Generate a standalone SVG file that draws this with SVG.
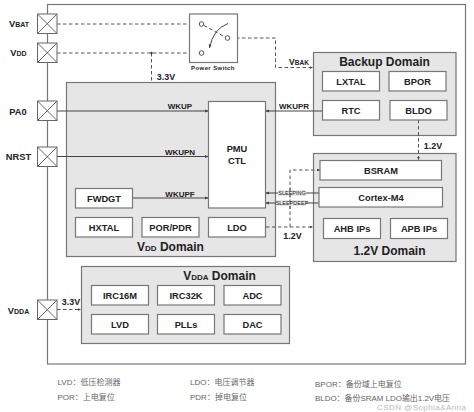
<svg xmlns="http://www.w3.org/2000/svg" width="474" height="412" viewBox="0 0 474 412">
<defs>
<marker id="a" markerWidth="4" markerHeight="4" refX="3.500" refY="2" orient="auto" markerUnits="userSpaceOnUse"><path d="M0 .5L3.500 2L0 3.500z" fill="#444"/></marker>
<g id="pad"><rect width="19.500" height="19.500" fill="#fff" stroke="#666"/><path d="M0 0L19.500 19.500M19.500 0L0 19.500" stroke="#666" fill="none"/></g>
</defs>
<style>
text{font-family:"Liberation Sans",Arial,sans-serif;fill:#222;font-weight:700;text-anchor:middle}
.d{fill:#e6e6e6;stroke:#777;stroke-width:1.200}
.b{fill:#fff;stroke:#777;stroke-width:1.200}
.c{font-size:9.300px}
.t{font-size:12px}
.l{font-size:8px}
.v{font-size:8.900px}
.p{font-size:9.300px}
.z{font-size:5.500px;font-weight:400}
.s{stroke:#444;fill:none;stroke-width:1}
.da{stroke:#555;fill:none;stroke-width:1;stroke-dasharray:3.500 2.500}
.n{font-size:8px;font-weight:400;fill:#666;text-anchor:start;font-family:"Liberation Sans","Noto Sans CJK SC",sans-serif}
</style>
<rect id="chip" x="47.500" y="4.500" width="418" height="359.500" fill="#fff" stroke="#777" stroke-width="1.200"/>
<g id="vdd-domain"><rect class="d" x="66.500" y="82.500" width="209" height="174"/><text class="t" x="170.500" y="251">V<tspan font-size="8">DD</tspan> Domain</text></g>
<g id="backup-domain"><rect class="d" x="313.500" y="52.500" width="142.500" height="83"/><text class="t" x="384.500" y="66">Backup Domain</text></g>
<g id="v12-domain"><rect class="d" x="313.500" y="153.500" width="142.500" height="108"/><text class="t" x="389.500" y="254.500">1.2V Domain</text></g>
<g id="vdda-domain"><rect class="d" x="81.500" y="266.500" width="208" height="77"/><text class="t" x="219.500" y="280">V<tspan font-size="8">DDA</tspan> Domain</text></g>
<g id="connectors">
<path class="da" d="M57 24H199M57 53H199M151.500 53V82"/>
<circle cx="151.500" cy="53" r="1.200" fill="#333"/>
<path class="da" d="M230 38H275.500V67.500H313" marker-end="url(#a)"/>
<path class="da" d="M418.500 120V160" marker-end="url(#a)"/>
<path class="da" d="M266 227H313" marker-end="url(#a)"/>
<path class="da" d="M290 227V170H320" marker-end="url(#a)"/>
<path class="da" d="M57 309.500H81" marker-end="url(#a)"/>
<path class="s" d="M57 111H208.500" marker-end="url(#a)"/>
<path class="s" d="M57 156.500H208.500" marker-end="url(#a)"/>
<path class="s" d="M132.500 198H208.500" marker-end="url(#a)"/>
<path class="s" d="M322 111H265.500" marker-end="url(#a)"/>
<path class="s" d="M319 193H265.500" marker-end="url(#a)"/>
<path class="s" d="M319 203H265.500" marker-end="url(#a)"/>
<text class="l" x="180" y="108.500">WKUP</text>
<text class="l" x="180" y="155">WKUPN</text>
<text class="l" x="180" y="196.500">WKUPF</text>
<text class="l" x="294" y="108.500">WKUPR</text>
<rect x="278" y="190" width="28" height="6" fill="#e6e6e6"/>
<rect x="276" y="200" width="30" height="6" fill="#e6e6e6"/>
<path class="da" d="M290 188V209"/>
<text class="z" x="292" y="195">SLEEPING</text>
<text class="z" x="292" y="205">SLEEPDEEP</text>
<text class="v" x="166" y="80">3.3V</text>
<text class="v" x="433" y="149">1.2V</text>
<text class="v" x="292.500" y="238.700">1.2V</text>
<text class="v" x="71" y="304.700">3.3V</text>
<text x="299" y="65" font-size="8.500">V<tspan font-size="6.500">BAK</tspan></text>
</g>
<g id="pad-vbat"><use href="#pad" x="37.500" y="14"/><text class="p" x="19" y="26.500">V<tspan font-size="7">BAT</tspan></text></g>
<g id="pad-vdd"><use href="#pad" x="37.500" y="43"/><text class="p" x="18.500" y="56">V<tspan font-size="7">DD</tspan></text></g>
<g id="pad-pa0"><use href="#pad" x="37.500" y="101"/><text class="p" x="18" y="114.500">PA0</text></g>
<g id="pad-nrst"><use href="#pad" x="37.500" y="147"/><text class="p" x="18.500" y="160">NRST</text></g>
<g id="pad-vdda"><use href="#pad" x="37.500" y="300"/><text class="p" x="18.500" y="313.500">V<tspan font-size="7">DDA</tspan></text></g>
<g id="switch"><rect x="189.500" y="14" width="48" height="48.500" fill="#fff" stroke="#777" stroke-width="1.200"/>
<circle cx="201.500" cy="24" r="2.300" fill="#fff" stroke="#555"/><circle cx="201.500" cy="53" r="2.300" fill="#fff" stroke="#555"/><circle cx="227.500" cy="38" r="2.300" fill="#fff" stroke="#555"/>
<path class="da" d="M204 25.500L225 37"/><path class="s" d="M228 23.500Q213 29 209.500 48" marker-end="url(#a)"/>
<text x="213" y="70" font-size="6px" letter-spacing=".4">Power Switch</text></g>
<g id="pmu"><rect class="b" x="208.500" y="101.500" width="57" height="106.500"/><text class="c" x="237" y="152">PMU</text><text class="c" x="237" y="163.500">CTL</text></g>
<g id="fwdgt"><rect class="b" x="75.500" y="188.500" width="57" height="19.500"/><text class="c" x="104" y="201.500">FWDGT</text></g>
<g id="hxtal"><rect class="b" x="75.500" y="217.500" width="57" height="19.500"/><text class="c" x="104" y="230.500">HXTAL</text></g>
<g id="porpdr"><rect class="b" x="142" y="217.500" width="57" height="19.500"/><text class="c" x="170.500" y="230.500">POR/PDR</text></g>
<g id="ldo"><rect class="b" x="208.500" y="217.500" width="57" height="19.500"/><text class="c" x="237" y="230.500">LDO</text></g>
<g id="lxtal"><rect class="b" x="322.500" y="71.500" width="57" height="19.500"/><text class="c" x="351" y="84.500">LXTAL</text></g>
<g id="bpor"><rect class="b" x="389" y="71.500" width="57" height="19.500"/><text class="c" x="417.500" y="84.500">BPOR</text></g>
<g id="rtc"><rect class="b" x="322.500" y="100.500" width="57" height="19.500"/><text class="c" x="351" y="113.500">RTC</text></g>
<g id="bldo"><rect class="b" x="390" y="100.500" width="57" height="19.500"/><text class="c" x="418.500" y="113.500">BLDO</text></g>
<g id="bsram"><rect class="b" x="320" y="160.500" width="121.500" height="19.500"/><text class="c" x="381" y="173.500">BSRAM</text></g>
<g id="cortex"><rect class="b" x="319" y="187.500" width="123.500" height="19.500"/><text class="c" x="381" y="200.500">Cortex-M4</text></g>
<g id="ahb"><rect class="b" x="323.500" y="218.500" width="57" height="20"/><text class="c" x="352" y="232">AHB IPs</text></g>
<g id="apb"><rect class="b" x="390.500" y="218.500" width="57" height="20"/><text class="c" x="419" y="232">APB IPs</text></g>
<g id="irc16m"><rect class="b" x="91.500" y="285.500" width="57" height="19.500"/><text class="c" x="120" y="298.500">IRC16M</text></g>
<g id="irc32k"><rect class="b" x="157.500" y="285.500" width="57" height="19.500"/><text class="c" x="186" y="298.500">IRC32K</text></g>
<g id="adc"><rect class="b" x="224" y="285.500" width="57" height="19.500"/><text class="c" x="252.500" y="298.500">ADC</text></g>
<g id="lvd"><rect class="b" x="91.500" y="314.500" width="57" height="19.500"/><text class="c" x="120" y="327.500">LVD</text></g>
<g id="plls"><rect class="b" x="157.500" y="314.500" width="57" height="19.500"/><text class="c" x="186" y="327.500">PLLs</text></g>
<g id="dac"><rect class="b" x="224" y="314.500" width="57" height="19.500"/><text class="c" x="252.500" y="327.500">DAC</text></g>
<g id="notes">
<text class="n" x="57.500" y="384.500">LVD：低压检测器</text>
<text class="n" x="57.500" y="399.500">POR：上电复位</text>
<text class="n" x="190" y="384.500">LDO：电压调节器</text>
<text class="n" x="190" y="399.500">PDR：掉电复位</text>
<text class="n" x="315" y="387">BPOR：备份域上电复位</text>
<text class="n" x="315" y="401" textLength="135" lengthAdjust="spacingAndGlyphs">BLDO：备份SRAM LDO输出1.2V电压</text>
<text class="n" x="377" y="410" style="fill:#bbb;font-size:8px" textLength="89">CSDN @Sophia&amp;Anna</text>
</g>
</svg>
